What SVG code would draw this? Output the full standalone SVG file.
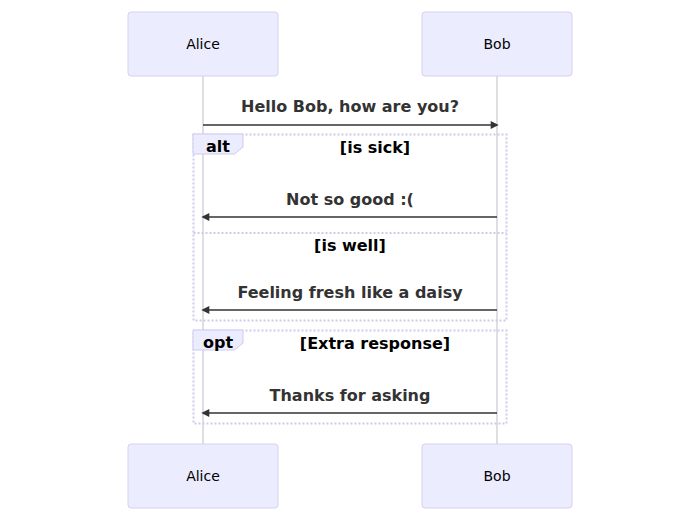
<svg xmlns="http://www.w3.org/2000/svg" width="700" height="511" viewBox="0 0 700 511">
<style>
.actor{fill:#ECECFF;stroke:#D7D0F0;stroke-width:1}
.atext{font-family:"DejaVu Sans",sans-serif;font-size:14px;fill:#000;text-anchor:middle;dominant-baseline:central}
.life{stroke:#D3D3DA;stroke-width:1.5}
.msg{stroke:#333;stroke-width:1.5;fill:none}
.mtext{font-family:"DejaVu Sans",sans-serif;font-size:16px;font-weight:bold;fill:#333;text-anchor:middle;dominant-baseline:central}
.loop{fill:none;stroke:#CFCAEE;stroke-width:2;stroke-dasharray:2,2}
.lbox{fill:#ECECFF;stroke:#CFCAEE;stroke-width:1}
.ltext{font-family:"DejaVu Sans",sans-serif;font-size:16px;font-weight:bold;fill:#000;text-anchor:middle;dominant-baseline:central}
</style>
<defs>
<marker id="arrow" viewBox="0 0 10 10" refX="7.9" refY="5" markerWidth="9" markerHeight="8" markerUnits="userSpaceOnUse" orient="auto">
<path d="M0 0 L10 5 L0 10 z" fill="#333"/>
</marker>
</defs>
<g id="lifelines">
<line class="life" x1="203" y1="76" x2="203" y2="444"/>
<line class="life" x1="497" y1="76" x2="497" y2="444"/>
</g>
<g id="alice-top"><rect class="actor" x="128" y="12" width="150" height="64" rx="3"/><text class="atext" x="203" y="44">Alice</text></g>
<g id="bob-top"><rect class="actor" x="422" y="12" width="150" height="64" rx="3"/><text class="atext" x="497" y="44">Bob</text></g>
<g id="alice-bottom"><rect class="actor" x="128" y="444" width="150" height="64" rx="3"/><text class="atext" x="203" y="476">Alice</text></g>
<g id="bob-bottom"><rect class="actor" x="422" y="444" width="150" height="64" rx="3"/><text class="atext" x="497" y="476">Bob</text></g>
<g id="alt-frame">
<rect class="loop" x="193.5" y="134.5" width="313" height="186"/>
<line class="loop" x1="193.5" y1="233" x2="506.5" y2="233"/>
<polygon class="lbox" points="193,134 243,134 243,147 234.6,154 193,154"/>
<text class="ltext" x="218" y="146">alt</text>
<text class="ltext" x="375" y="147">[is sick]</text>
<text class="ltext" x="350" y="245">[is well]</text>
</g>
<g id="opt-frame">
<rect class="loop" x="193.5" y="330.5" width="313" height="93"/>
<polygon class="lbox" points="193,330 243,330 243,343 234.6,350 193,350"/>
<text class="ltext" x="218" y="342">opt</text>
<text class="ltext" x="375" y="343">[Extra response]</text>
</g>
<g id="connectors">
<line class="msg" x1="203" y1="125" x2="497" y2="125" marker-end="url(#arrow)"/>
<line class="msg" x1="497" y1="217" x2="203" y2="217" marker-end="url(#arrow)"/>
<line class="msg" x1="497" y1="310" x2="203" y2="310" marker-end="url(#arrow)"/>
<line class="msg" x1="497" y1="413" x2="203" y2="413" marker-end="url(#arrow)"/>
<text class="mtext" x="350" y="106">Hello Bob, how are you?</text>
<text class="mtext" x="350" y="199">Not so good :(</text>
<text class="mtext" x="350" y="292">Feeling fresh like a daisy</text>
<text class="mtext" x="350" y="395">Thanks for asking</text>
</g>
</svg>
